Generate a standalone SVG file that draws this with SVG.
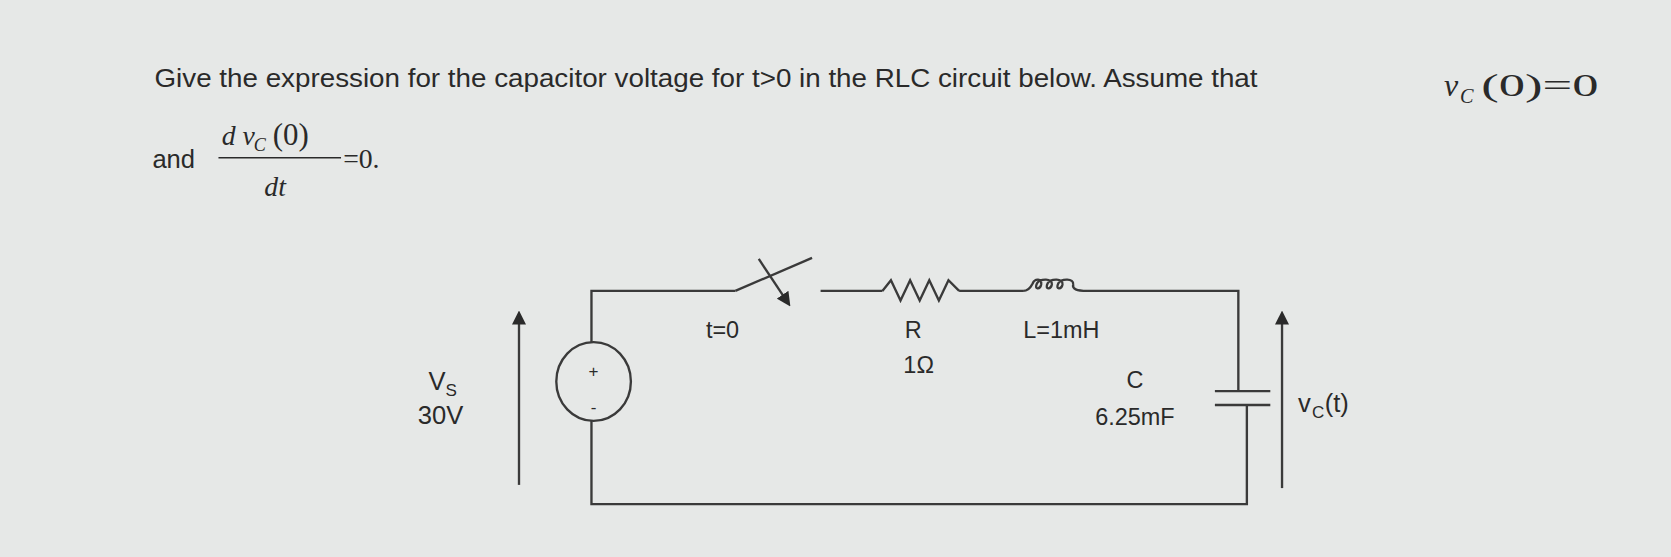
<svg xmlns="http://www.w3.org/2000/svg" width="1671" height="557" viewBox="0 0 1671 557">
<style>
.w{fill:none;stroke:#3a3a3a;stroke-width:2.2}
.t{font-family:"Liberation Sans",Arial,sans-serif;fill:#2a2a2a}
.m{font-family:"Liberation Serif","Times New Roman",serif;font-style:italic;fill:#2a2a2a}
.n{font-family:"Liberation Serif","Times New Roman",serif;fill:#2a2a2a}
</style>
<defs><marker id="ah" viewBox="0 0 10 10" refX="5" refY="5" markerWidth="6" markerHeight="6" orient="auto"><path d="M0,0L10,5L0,10z" fill="#2a2a2a"/></marker></defs>
<rect width="1671" height="557" fill="#e6e8e7"/>
<g transform="scale(1.0657)">
<g id="question">
<text class="t" x="145" y="82" font-size="25" textLength="1035" lengthAdjust="spacingAndGlyphs">Give the expression for the capacitor voltage for t&gt;0 in the RLC circuit below.  Assume that</text>
<text class="m" x="1355" y="90" font-size="30">v</text><text class="n" x="1370" y="97" font-size="19" font-style="italic">C</text>
<text class="n" x="1390" y="90" font-size="30" textLength="110" lengthAdjust="spacingAndGlyphs">(0)=0</text>
<text class="t" x="143" y="158" font-size="24">and</text>
<text class="m" x="208" y="136" font-size="26">d v</text><text class="n" x="238" y="142" font-size="17" font-style="italic">C</text>
<text class="n" x="256" y="136" font-size="29">(0)</text>
<line x1="205" y1="148" x2="320" y2="148" stroke="#2a2a2a" stroke-width="1.5"/>
<text class="m" x="248" y="184" font-size="26">dt</text>
<text class="n" x="322" y="158" font-size="26">=0.</text>
</g>
<g id="connectors">
<path class="w" d="M690,273H555V321M555,395V473H1170V380M1162,367V273H1020"/>
<path class="w" d="M960,273H900M828,273H770"/>
</g>
<g id="switch"><path class="w" d="M690,273L762,242"/><path class="w" d="M712,243L738,282" marker-end="url(#ah)"/><text class="t" x="678" y="317" font-size="22" text-anchor="middle">t=0</text></g>
<g id="resistor"><path class="w" d="M828,273L836,263L845,282L854,263L863,282L872,263L881,282L890,263L900,273"/><text class="t" x="857" y="317" font-size="22" text-anchor="middle">R</text><text class="t" x="862" y="350" font-size="22" text-anchor="middle">1Ω</text></g>
<g id="inductor"><path class="w" d="M960,273C965,273 967,270 969,266C971,261 978,261 977,267C976,272 970,272 973,266C976,261 988,261 987,267C986,272 980,272 983,266C986,261 998,261 997,267C996,272 990,272 993,266C996,261 1008,261 1007,267C1006,271 1010,273 1020,273"/><text class="t" x="996" y="317" font-size="22" text-anchor="middle">L=1mH</text></g>
<g id="source"><ellipse cx="557" cy="358" rx="35" ry="37" class="w"/><text class="t" x="557" y="354" font-size="16" text-anchor="middle">+</text><text class="t" x="557" y="388" font-size="16" text-anchor="middle">-</text>
<line class="w" x1="487" y1="455" x2="487" y2="298" marker-end="url(#ah)"/>
<text class="t" x="402" y="366" font-size="24">V</text><text class="t" x="418" y="372" font-size="16">S</text><text class="t" x="392" y="398" font-size="24">30V</text></g>
<g id="capacitor"><path class="w" d="M1140,367H1192M1140,380H1192"/><text class="t" x="1065" y="364" font-size="22" text-anchor="middle">C</text><text class="t" x="1065" y="399" font-size="22" text-anchor="middle">6.25mF</text>
<line class="w" x1="1203" y1="458" x2="1203" y2="298" marker-end="url(#ah)"/>
<text class="t" x="1218" y="387" font-size="24">v</text><text class="t" x="1231" y="392" font-size="16">C</text><text class="t" x="1243" y="387" font-size="24">(t)</text></g>
</g>
</svg>
